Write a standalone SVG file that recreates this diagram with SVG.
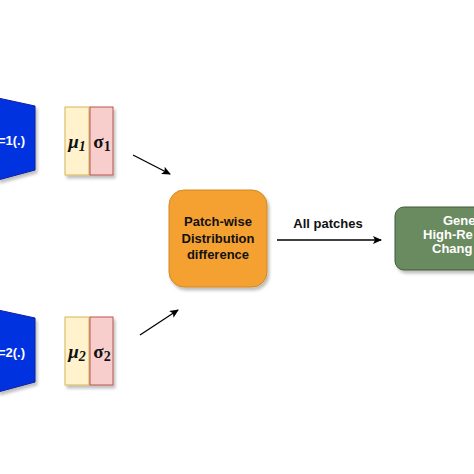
<svg xmlns="http://www.w3.org/2000/svg" width="474" height="474" viewBox="0 0 474 474">
<defs>
<marker id="ah" markerWidth="10" markerHeight="10" refX="8" refY="5" orient="auto" markerUnits="userSpaceOnUse">
<path d="M0,1 L9,5 L0,9 L2,5 Z" fill="#000"/>
</marker>
<filter id="sh" x="-10%" y="-10%" width="130%" height="130%">
<feDropShadow dx="2" dy="3" stdDeviation="1.5" flood-color="#000" flood-opacity="0.25"/>
</filter>
</defs>
<style>
.blue{fill:#0633e0;stroke:#0a1f9a;stroke-width:1}
.mu{fill:#fff2cc;stroke:#d6b656;stroke-width:1}
.sig{fill:#f8cecc;stroke:#b85450;stroke-width:1}
.wt{font-family:"Liberation Sans",Arial,sans-serif;font-weight:bold;font-size:13px;fill:#fff}
.gr{font-family:"Liberation Serif","Times New Roman",serif;font-weight:bold;font-size:19px;fill:#111}
.lb{font-family:"Liberation Sans",Arial,sans-serif;font-weight:bold;font-size:13px;fill:#111}
.ln{stroke:#000;stroke-width:1.3;fill:none}
</style>
<rect width="474" height="474" fill="#fff"/>
<g id="encoder1">
<path class="blue" d="M-2,98 L35,106 L35,170 L-2,180 Z" filter="url(#sh)"/>
<text class="wt" x="25" y="145" text-anchor="end">=1(.)</text>
</g>
<g id="encoder2">
<path class="blue" d="M-2,310 L35,318 L35,382 L-2,392 Z" filter="url(#sh)"/>
<text class="wt" x="25" y="357" text-anchor="end">=2(.)</text>
</g>
<g id="stats1">
<rect class="mu" x="65" y="107" width="24" height="68" filter="url(#sh)"/>
<rect class="sig" x="90" y="107" width="23" height="68" filter="url(#sh)"/>
<text class="gr" x="77" y="148" text-anchor="middle"><tspan font-style="italic">μ</tspan><tspan font-style="italic" font-size="14" dy="3">1</tspan></text>
<text class="gr" x="102" y="148" text-anchor="middle">σ<tspan font-size="14" dy="3">1</tspan></text>
</g>
<g id="stats2">
<rect class="mu" x="65" y="317" width="24" height="68" filter="url(#sh)"/>
<rect class="sig" x="90" y="317" width="23" height="68" filter="url(#sh)"/>
<text class="gr" x="77" y="358" text-anchor="middle"><tspan font-style="italic">μ</tspan><tspan font-style="italic" font-size="14" dy="3">2</tspan></text>
<text class="gr" x="102" y="358" text-anchor="middle">σ<tspan font-size="14" dy="3">2</tspan></text>
</g>
<g id="patchwise">
<rect x="169" y="190" width="98" height="97" rx="15" ry="15" fill="#f5a130" stroke="#d08a20" stroke-width="1" filter="url(#sh)"/>
<text class="lb" x="218" y="226" text-anchor="middle">Patch-wise</text>
<text class="lb" x="218" y="243" text-anchor="middle">Distribution</text>
<text class="lb" x="218" y="259" text-anchor="middle">difference</text>
</g>
<g id="generate">
<rect x="395" y="207" width="100" height="63" rx="9" ry="9" fill="#6a8a60" stroke="#3f5a36" stroke-width="1" filter="url(#sh)"/>
<text class="wt" x="443" y="225" fill="#f2f2f2">Gene</text>
<text class="wt" x="423" y="239">High-Re</text>
<text class="wt" x="432" y="253">Chang</text>
</g>
<g id="connectors">
<line class="ln" x1="133" y1="155" x2="170" y2="174" marker-end="url(#ah)"/>
<line class="ln" x1="140" y1="335" x2="178" y2="310" marker-end="url(#ah)"/>
<line class="ln" x1="277" y1="240" x2="381" y2="240" marker-end="url(#ah)"/>
<text class="lb" x="328" y="228" text-anchor="middle">All patches</text>
</g>
</svg>
